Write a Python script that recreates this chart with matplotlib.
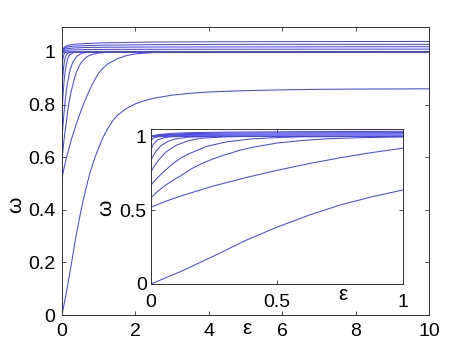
import numpy as np
import matplotlib
matplotlib.use("Agg")
import matplotlib.pyplot as plt

plt.rcParams['font.family'] = ['Liberation Sans', 'DejaVu Sans']

# ---- data: eps, omega pairs per curve ----
c0_e = [0, 0.125, 0.25, 0.375, 0.5, 0.625, 0.75, 0.875, 1.0, 1.125, 1.25, 1.375, 1.5, 1.75, 2.0,
        2.25, 2.5, 3, 3.5, 4, 5, 6, 7, 8, 10]
c0_w = [0, 0.09, 0.19, 0.295, 0.385, 0.465, 0.535, 0.59, 0.637, 0.677, 0.71, 0.737, 0.758, 0.785, 0.803,
        0.815, 0.824, 0.836, 0.843, 0.848, 0.853, 0.856, 0.858, 0.859, 0.86]

c1_e = [0, 0.0625, 0.125, 0.25, 0.375, 0.5, 0.625, 0.75, 0.875, 1.0, 1.125, 1.25, 1.5, 1.75, 2.0, 2.5, 3, 10]
c1_w = [0.52, 0.563, 0.60, 0.665, 0.72, 0.77, 0.815, 0.855, 0.89, 0.92, 0.94, 0.955, 0.974, 0.986, 0.993, 0.998, 1.0, 1.0]

c2_e = [0, 0.025, 0.05, 0.08, 0.115, 0.16, 0.2, 0.25, 0.29, 0.35, 0.4, 0.5, 0.6, 0.7, 0.85, 1.0, 1.25, 1.5, 10]
c2_w = [0.585, 0.625, 0.66, 0.695, 0.73, 0.78, 0.815, 0.85, 0.873, 0.905, 0.925, 0.955, 0.972, 0.984, 0.992, 0.996, 0.999, 1.0, 1.0]

c3_e = [0, 0.02, 0.05, 0.09, 0.12, 0.15, 0.22, 0.3, 0.4, 0.5, 0.6, 0.8, 1.0, 10]
c3_w = [0.67, 0.71, 0.76, 0.82, 0.855, 0.882, 0.932, 0.963, 0.983, 0.992, 0.997, 0.999, 1.0, 1.0]

c4_e = [0, 0.01, 0.03, 0.06, 0.1, 0.15, 0.2, 0.3, 0.4, 10]
c4_w = [0.76, 0.79, 0.84, 0.895, 0.94, 0.972, 0.988, 0.997, 1.0, 1.0]

c5_e = [0, 0.01, 0.02, 0.04, 0.07, 0.1, 0.15, 0.25, 10]
c5_w = [0.84, 0.872, 0.90, 0.938, 0.968, 0.984, 0.995, 1.0, 1.0]

c6_e = [0, 0.01, 0.025, 0.05, 0.08, 0.15, 10]
c6_w = [0.91, 0.948, 0.975, 0.99, 0.998, 1.0, 1.0]

c7_e = [0, 0.01, 0.03, 0.06, 10]
c7_w = [0.97, 0.99, 0.998, 1.0, 1.0]

t1_e = [0, 0.03, 0.08, 0.15, 0.3, 0.6, 1.2, 2.5, 5, 10]
t1_w = [1.0, 1.012, 1.02, 1.025, 1.029, 1.032, 1.035, 1.038, 1.039, 1.04]

t2_e = [0, 0.03, 0.08, 0.15, 0.3, 0.6, 1.2, 2.5, 5, 10]
t2_w = [1.0, 1.009, 1.015, 1.019, 1.022, 1.024, 1.026, 1.028, 1.029, 1.029]

t3_e = [0, 0.03, 0.08, 0.15, 0.3, 0.6, 1.2, 2.5, 10]
t3_w = [1.0, 1.006, 1.01, 1.013, 1.015, 1.017, 1.018, 1.019, 1.02]

t4_e = [0, 0.05, 0.15, 0.5, 1.5, 10]
t4_w = [1.0, 1.004, 1.007, 1.009, 1.010, 1.011]

z_e = [0, 10]
z_w = [0, 0]

curves = [(c0_e, c0_w), (c1_e, c1_w), (c2_e, c2_w), (c3_e, c3_w), (c4_e, c4_w),
          (c5_e, c5_w), (c6_e, c6_w), (c7_e, c7_w), (t1_e, t1_w), (t2_e, t2_w),
          (t3_e, t3_w), (t4_e, t4_w), (z_e, z_w)]

main_xticks = [0, 2, 4, 6, 8, 10]
main_yticks = [0, 0.2, 0.4, 0.6, 0.8, 1]
inset_xticks = [0, 0.5, 1]
inset_yticks = [0, 0.5, 1]

W, H = 474, 355
fig = plt.figure(figsize=(W / 100, H / 100), dpi=100)

LC = '#4848e6'
LW = 0.75
SC = '#303030'

def style(ax, pad_x, pad_y):
    for s in ax.spines.values():
        s.set_color(SC)
        s.set_linewidth(0.7)
    ax.tick_params(direction='in', length=3, width=0.6, color=SC, labelsize=14,
                   top=True, right=True)
    ax.tick_params(axis='x', pad=pad_x)
    ax.tick_params(axis='y', pad=pad_y)

def fmt(v):
    return ('%g' % v)

# main axes
ax = fig.add_axes([62 / W, 1 - 315 / H, 367 / W, 288 / H])
for e, w in curves:
    ax.plot(e, w, color=LC, lw=LW)
ax.set_xlim(0, 10)
ax.set_ylim(0, 1.095)
ax.set_xticks(main_xticks)
ax.set_xticklabels([fmt(v) for v in main_xticks])
ax.set_yticks(main_yticks)
ax.set_yticklabels([fmt(v) for v in main_yticks])
style(ax, 6, 5)

# inset axes
ai = fig.add_axes([151 / W, 1 - 284 / H, 252 / W, 155 / H])
for e, w in curves:
    ai.plot(e, w, color=LC, lw=LW)
ai.set_xlim(0, 1)
ai.set_ylim(0, 1.05)
ai.set_xticks(inset_xticks)
ai.set_xticklabels([fmt(v) for v in inset_xticks])
ai.set_yticks(inset_yticks)
ai.set_yticklabels([fmt(v) for v in inset_yticks])
style(ai, 7, 3)

# labels (placed like in the reference)
fig.text(247 / W, 1 - 328 / H, 'ε', ha='center', va='center', fontsize=15)
fig.text(16 / W, 1 - 205 / H, 'ω', ha='center', va='center', fontsize=15, rotation=90)
fig.text(343 / W, 1 - 294 / H, 'ε', ha='center', va='center', fontsize=15)
fig.text(106 / W, 1 - 208 / H, 'ω', ha='center', va='center', fontsize=15, rotation=90)

fig.savefig('out.png', dpi=100)
